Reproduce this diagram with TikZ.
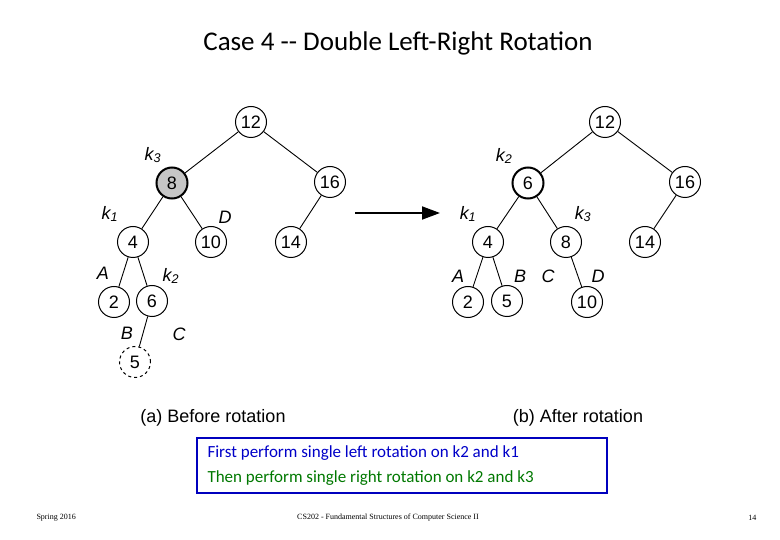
\documentclass[tikz,border=0pt]{standalone}
\usepackage{fontspec}
\setmainfont{Liberation Sans}
\newfontfamily\calfnt{Carlito}
\newfontfamily\tmsfnt{Liberation Serif}
\usetikzlibrary{arrows.meta}
\begin{document}
\begin{tikzpicture}[x=1pt,y=-1pt,
  nd/.style={circle,draw,line width=1pt,minimum size=31pt,inner sep=0pt,font=\fontsize{18}{18}\selectfont},
  lb/.style={font=\fontsize{18}{18}\selectfont\itshape},
  ed/.style={line width=0.9pt},
  ft/.style={font=\tmsfnt\fontsize{8}{8}\selectfont}]
\useasboundingbox (0,0) rectangle (780,540);
\node[font=\calfnt\fontsize{27}{27}\selectfont] (title) at (398,43) {Case 4 -- Double Left-Right Rotation};
% left tree
\node[nd] (a12) at (251,122) {12};
\node[nd,fill=gray!45,line width=2pt] (a8) at (172,183) {8};
\node[nd] (a16) at (330,182) {16};
\node[nd] (a4) at (133,242) {4};
\node[nd] (a10) at (211,242) {10};
\node[nd] (a14) at (291,242) {14};
\node[nd] (a2) at (114,302) {2};
\node[nd] (a6) at (152,301) {6};
\node[nd,dashed] (a5) at (135,362) {5};
\draw[ed] (a12)--(a8) (a12)--(a16) (a8)--(a4) (a8)--(a10) (a16)--(a14) (a4)--(a2) (a4)--(a6) (a6)--(a5);
\node[lb] (lk3) at (153,155) {k\textsubscript{3}};
\node[lb] (lk1) at (110,214) {k\textsubscript{1}};
\node[lb] (lD) at (225,217) {D};
\node[lb] (lA) at (103,273) {A};
\node[lb] (lk2) at (171,276) {k\textsubscript{2}};
\node[lb] (lB) at (127,333) {B};
\node[lb] (lC) at (179,334) {C};
% arrow
\coordinate (p1) at (355,213); \coordinate (p2) at (440,213);
\draw[line width=1.8pt,-{Triangle[length=18pt,width=13pt]}] (p1)--(p2);
% right tree
\node[nd] (b12) at (605,122) {12};
\node[nd,line width=2pt] (b6) at (528,183) {6};
\node[nd] (b16) at (685,182) {16};
\node[nd] (b4) at (488,242) {4};
\node[nd] (b8) at (566,242) {8};
\node[nd] (b14) at (645,242) {14};
\node[nd] (b2) at (468,302) {2};
\node[nd] (b5) at (507,301) {5};
\node[nd] (b10) at (587,302) {10};
\draw[ed] (b12)--(b6) (b12)--(b16) (b6)--(b4) (b6)--(b8) (b16)--(b14) (b4)--(b2) (b4)--(b5) (b8)--(b10);
\node[lb] (mk2) at (504,156) {k\textsubscript{2}};
\node[lb] (mk1) at (468,214) {k\textsubscript{1}};
\node[lb] (mk3) at (583,214) {k\textsubscript{3}};
\node[lb] (mA) at (458,276) {A};
\node[lb] (mB) at (520,276) {B};
\node[lb] (mC) at (548,276) {C};
\node[lb] (mD) at (598,276) {D};
\node[font=\fontsize{18}{18}\selectfont] (ca) at (213,418) {(a) Before rotation};
\node[font=\fontsize{18}{18}\selectfont] (cb) at (578,418) {(b) After rotation};
% box
\draw[draw={rgb,255:red,0;green,0;blue,190},line width=1.8pt] (197,438) rectangle (607,493);
\node[font=\calfnt\fontsize{17}{17}\selectfont,text={rgb,255:red,0;green,0;blue,200},anchor=west] (t1) at (204,453) {First perform single left rotation on k2 and k1};
\node[font=\calfnt\fontsize{17}{17}\selectfont,text={rgb,255:red,0;green,120;blue,0},anchor=west] (t2) at (204,478) {Then perform single right rotation on k2 and k3};
\node[ft,anchor=west] (f1) at (33,518) {Spring 2016};
\node[ft] (f2) at (388,518) {CS202 - Fundamental Structures of Computer Science II};
\node[ft,anchor=east] (f3) at (760,518) {14};
\end{tikzpicture}
\end{document}
